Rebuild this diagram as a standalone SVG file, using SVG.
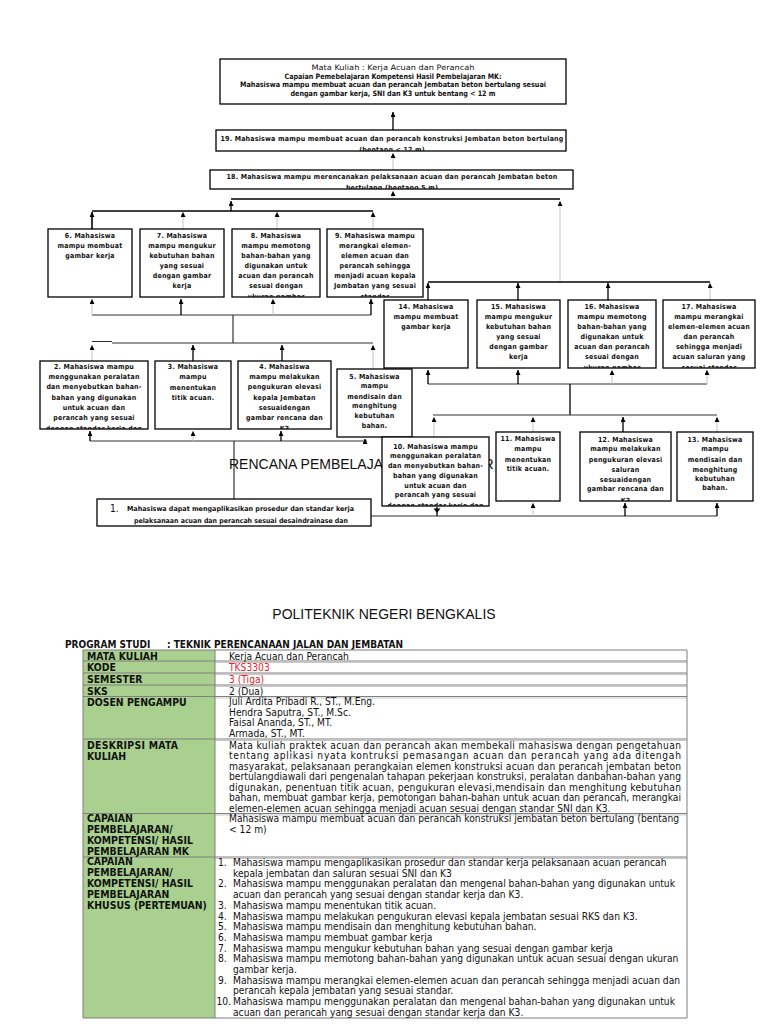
<svg xmlns="http://www.w3.org/2000/svg" width="768" height="1024" viewBox="0 0 768 1024">
<style>
.box{fill:#fff;stroke:#000;stroke-width:1.3}
.bt{font-family:"DejaVu Sans Condensed","DejaVu Sans",sans-serif;font-size:7px;letter-spacing:0.2px;font-weight:bold;text-anchor:middle;fill:#111}
.bs{font-family:"DejaVu Sans Condensed","DejaVu Sans",sans-serif;font-size:6.8px;font-weight:bold;fill:#111}
.tt{font-family:"DejaVu Sans Condensed","DejaVu Sans",sans-serif;font-size:7.4px;text-anchor:middle;fill:#111}
.ck{stroke:#000;stroke-width:1.3;fill:none}
.cg{stroke:#c4c4c4;stroke-width:1;fill:none}
.cd{stroke:#333;stroke-width:1.2;fill:none}
.ar{marker-end:url(#ah)}
.h1{font-family:"Liberation Sans",Arial,sans-serif;font-size:14px;fill:#111}
.lb{font-family:"DejaVu Sans Condensed","DejaVu Sans",sans-serif;font-size:10.4px;font-weight:bold;fill:#111}
.ps{font-family:"DejaVu Sans Condensed","DejaVu Sans",sans-serif;font-size:10px;font-weight:bold;fill:#111}
.tv{font-family:"DejaVu Sans Condensed","DejaVu Sans",sans-serif;font-size:10.2px;fill:#111}
.red{fill:#e8202a}
.rl{stroke:#7f7f7f;stroke-width:1}
.rl2{stroke:#c8c8c8;stroke-width:1}
</style>
<defs>
<marker id="ah" viewBox="0 0 6 6" refX="6" refY="3" markerWidth="5" markerHeight="5" orient="auto" markerUnits="userSpaceOnUse"><path d="M0,0 L6,3 L0,6 z" fill="#000"/></marker>
<clipPath id="c19"><rect x="216" y="130" width="350" height="21"/></clipPath>
<clipPath id="c18"><rect x="210" y="170" width="363" height="19"/></clipPath>
<clipPath id="cA"><rect x="40" y="229" width="390" height="68"/></clipPath>
<clipPath id="cB"><rect x="380" y="300" width="380" height="68"/></clipPath>
<clipPath id="cC"><rect x="30" y="361" width="310" height="68"/></clipPath>
<clipPath id="c10"><rect x="382" y="437" width="107" height="69"/></clipPath>
<clipPath id="c12"><rect x="580" y="432" width="91" height="69"/></clipPath>
<clipPath id="c1"><rect x="97" y="499" width="274" height="27"/></clipPath>
</defs>
<rect width="768" height="1024" fill="#fff"/>

<g id="connectors">
<path class="ck ar" d="M393,130 V112"/>
<path class="cg ar" d="M393,170 V153"/>
<path class="cg ar" d="M393,199 V191"/>
<path class="ck" d="M231,199 H560"/>
<path class="ck ar" d="M231,211 V201"/>
<path class="cg ar" d="M560,282 V201"/>
<path class="ck" d="M92,211 H373"/>
<path class="ck ar" d="M92,229 V212" style="stroke-width:1.6"/>
<path class="cg ar" d="M183,229 V212"/>
<path class="cg ar" d="M277,229 V212"/>
<path class="cg ar" d="M373,229 V212"/>
<path class="ck" d="M428,282 H710"/>
<path class="ck ar" d="M428,300 V283"/>
<path class="ck ar" d="M518,300 V283"/>
<path class="ck ar" d="M608,300 V283"/>
<path class="cg ar" d="M710,300 V283"/>
<path class="cd" d="M92,315 H371"/>
<path class="cg ar" d="M92,315 V299"/>
<path class="ck ar" d="M181,315 V299"/>
<path class="cg ar" d="M273,315 V299"/>
<path class="ck ar" d="M371,315 V299"/>
<path class="cd" d="M233,343 V315"/>
<path class="cd" d="M92,341.5 H112 M112,343 H373"/>
<path class="cg ar" d="M92,361 V345"/>
<path class="ck ar" d="M193,361 V345"/>
<path class="ck ar" d="M282,361 V345"/>
<path class="cg ar" d="M373,369 V345"/>
<path class="cd" d="M428,384 H707"/>
<path class="ck ar" d="M428,384 V370"/>
<path class="ck ar" d="M518,384 V370"/>
<path class="cg ar" d="M612,384 V370"/>
<path class="cg ar" d="M707,384 V370"/>
<path class="ck" d="M570,415 V384"/>
<path class="cd" d="M433,415 H717"/>
<path class="cg ar" d="M434,437 V417"/>
<path class="cg ar" d="M533,432 V417"/>
<path class="ck ar" d="M623,432 V417"/>
<path class="cg ar" d="M717,432 V417"/>
<path class="cd" d="M90,441 H367"/>
<path class="ck ar" d="M90,441 V431"/>
<path class="cg ar" d="M193,441 V431"/>
<path class="ck ar" d="M281,441 V431"/>
<path class="ck ar" d="M365,441 V439"/>
<path class="cd" d="M234,441 V499"/>
<path class="cd" d="M371,516 H717"/>
<path class="cg ar" d="M533,516 V503"/>
<path class="ck ar" d="M625,516 V503"/>
<path class="ck ar" d="M717,516 V503"/>
<path class="ck" d="M437,507 V516"/>
<path d="M433.5,508.5 H440.5 L437,513 z" fill="#000"/>
</g>

<g id="n-top">
<rect class="box" x="220" y="59" width="346" height="45"/>
<text class="tt" x="393" y="70" textLength="163" lengthAdjust="spacingAndGlyphs">Mata Kuliah : Kerja Acuan dan Perancah</text>
<text class="tt" x="393" y="78.5" font-weight="bold" textLength="217" lengthAdjust="spacingAndGlyphs">Capaian Pemebelajaran Kompetensi Hasil Pembelajaran MK:</text>
<text class="tt" x="393" y="87" font-weight="bold" textLength="306" lengthAdjust="spacingAndGlyphs">Mahasiswa mampu membuat acuan dan perancah Jembatan beton bertulang sesuai</text>
<text class="tt" x="393" y="95.5" font-weight="bold" textLength="205" lengthAdjust="spacingAndGlyphs">dengan gambar kerja, SNI dan K3 untuk bentang &lt; 12 m</text>
</g>

<g id="n19">
<rect class="box" x="216" y="130" width="350" height="21"/>
<g clip-path="url(#c19)">
<text class="bt" x="392" y="140.5" textLength="343" lengthAdjust="spacingAndGlyphs">19. Mahasiswa mampu membuat acuan dan perancah konstruksi Jembatan beton bertulang</text>
<text class="bt" x="392" y="151.5">(bentang &lt; 12 m)</text>
</g>
</g>

<g id="n18">
<rect class="box" x="210" y="170" width="363" height="19"/>
<g clip-path="url(#c18)">
<text class="bt" x="392" y="179" textLength="331" lengthAdjust="spacingAndGlyphs">18. Mahasiswa mampu merencanakan pelaksanaan acuan dan perancah Jembatan beton</text>
<text class="bt" x="392" y="190">bertulang (bentang 5 m)</text>
</g>
</g>

<g id="n6">
<rect class="box" x="48" y="229" width="84" height="68"/>
<text class="bt"><tspan x="90" y="237.5">6. Mahasiswa</tspan><tspan x="90" y="247.6">mampu membuat</tspan><tspan x="90" y="257.7">gambar kerja</tspan></text>
</g>
<g id="n7">
<rect class="box" x="140" y="229" width="84" height="68"/>
<text class="bt"><tspan x="182" y="237.5">7. Mahasiswa</tspan><tspan x="182" y="247.6">mampu mengukur</tspan><tspan x="182" y="257.7">kebutuhan bahan</tspan><tspan x="182" y="267.8">yang sesuai</tspan><tspan x="182" y="277.9">dengan gambar</tspan><tspan x="182" y="288">kerja</tspan></text>
</g>
<g id="n8">
<rect class="box" x="232" y="229" width="88" height="68"/>
<text class="bt" clip-path="url(#cA)"><tspan x="276" y="237.5">8. Mahasiswa</tspan><tspan x="276" y="247.6">mampu memotong</tspan><tspan x="276" y="257.7">bahan-bahan yang</tspan><tspan x="276" y="267.8">digunakan untuk</tspan><tspan x="276" y="277.9">acuan dan perancah</tspan><tspan x="276" y="288">sesuai dengan</tspan><tspan x="276" y="298.6">ukuran gambar</tspan></text>
</g>
<g id="n9">
<rect class="box" x="327" y="229" width="96" height="68"/>
<text class="bt" clip-path="url(#cA)"><tspan x="375" y="237.5">9. Mahasiswa mampu</tspan><tspan x="375" y="247.6">merangkai elemen-</tspan><tspan x="375" y="257.7">elemen acuan dan</tspan><tspan x="375" y="267.8">perancah sehingga</tspan><tspan x="375" y="277.9">menjadi acuan kepala</tspan><tspan x="375" y="288">Jembatan yang sesuai</tspan><tspan x="375" y="298.6">standar</tspan></text>
</g>

<g id="n14">
<rect class="box" x="384" y="300" width="84" height="68"/>
<text class="bt"><tspan x="426" y="308.5">14. Mahasiswa</tspan><tspan x="426" y="318.6">mampu membuat</tspan><tspan x="426" y="328.7">gambar kerja</tspan></text>
</g>
<g id="n15">
<rect class="box" x="477" y="300" width="83" height="68"/>
<text class="bt"><tspan x="518.5" y="308.5">15. Mahasiswa</tspan><tspan x="518.5" y="318.6">mampu mengukur</tspan><tspan x="518.5" y="328.7">kebutuhan bahan</tspan><tspan x="518.5" y="338.8">yang sesuai</tspan><tspan x="518.5" y="348.9">dengan gambar</tspan><tspan x="518.5" y="359">kerja</tspan></text>
</g>
<g id="n16">
<rect class="box" x="568" y="300" width="88" height="68"/>
<text class="bt" clip-path="url(#cB)"><tspan x="612" y="308.5">16. Mahasiswa</tspan><tspan x="612" y="318.6">mampu memotong</tspan><tspan x="612" y="328.7">bahan-bahan yang</tspan><tspan x="612" y="338.8">digunakan untuk</tspan><tspan x="612" y="348.9">acuan dan perancah</tspan><tspan x="612" y="359">sesuai dengan</tspan><tspan x="612" y="369.6">ukuran gambar</tspan></text>
</g>
<g id="n17">
<rect class="box" x="663" y="300" width="92" height="68"/>
<text class="bt" clip-path="url(#cB)"><tspan x="709" y="308.5">17. Mahasiswa</tspan><tspan x="709" y="318.6">mampu merangkai</tspan><tspan x="709" y="328.7">elemen-elemen acuan</tspan><tspan x="709" y="338.8">dan perancah</tspan><tspan x="709" y="348.9">sehingga menjadi</tspan><tspan x="709" y="359">acuan saluran yang</tspan><tspan x="709" y="369.6">sesuai standar</tspan></text>
</g>

<g id="n2">
<rect class="box" x="40" y="361" width="108" height="68"/>
<text class="bt" clip-path="url(#cC)"><tspan x="94" y="369">2. Mahasiswa mampu</tspan><tspan x="94" y="379.2">menggunakan peralatan</tspan><tspan x="94" y="389.4">dan menyebutkan bahan-</tspan><tspan x="94" y="399.6">bahan yang digunakan</tspan><tspan x="94" y="409.8">untuk acuan dan</tspan><tspan x="94" y="420">perancah yang sesuai</tspan><tspan x="94" y="430.6">dengan standar kerja dan</tspan></text>
</g>
<g id="n3">
<rect class="box" x="155" y="361" width="76" height="68"/>
<text class="bt"><tspan x="193" y="369">3. Mahasiswa</tspan><tspan x="193" y="378.5">mampu</tspan><tspan x="193" y="390">menentukan</tspan><tspan x="193" y="399.5">titik acuan.</tspan></text>
</g>
<g id="n4">
<rect class="box" x="238" y="361" width="93" height="68"/>
<text class="bt" clip-path="url(#cC)"><tspan x="284.5" y="369">4. Mahasiswa</tspan><tspan x="284.5" y="379.2">mampu melakukan</tspan><tspan x="284.5" y="389.4">pengukuran elevasi</tspan><tspan x="284.5" y="399.6">kepala Jembatan</tspan><tspan x="284.5" y="409.8">sesuaidengan</tspan><tspan x="284.5" y="420">gambar rencana dan</tspan><tspan x="284.5" y="430.6">K3</tspan></text>
</g>
<g id="n5">
<rect class="box" x="337" y="369" width="75" height="68"/>
<text class="bt"><tspan x="374.5" y="378.5">5. Mahasiswa</tspan><tspan x="374.5" y="388">mampu</tspan><tspan x="374.5" y="399">mendisain dan</tspan><tspan x="374.5" y="408">menghitung</tspan><tspan x="374.5" y="418">kebutuhan</tspan><tspan x="374.5" y="428">bahan.</tspan></text>
</g>

<g id="title">
<text class="h1" x="229" y="468.5">RENCANA PEMBELAJARAN SEMESTER</text>
</g>

<g id="n10">
<rect class="box" x="382" y="437" width="107" height="69"/>
<text class="bt" clip-path="url(#c10)"><tspan x="435.5" y="448.5">10. Mahasiswa mampu</tspan><tspan x="435.5" y="458.2">menggunakan peralatan</tspan><tspan x="435.5" y="468">dan menyebutkan bahan-</tspan><tspan x="435.5" y="477.7">bahan yang digunakan</tspan><tspan x="435.5" y="487.5">untuk acuan dan</tspan><tspan x="435.5" y="497.2">perancah yang sesuai</tspan><tspan x="435.5" y="507.5">dengan standar kerja dan</tspan></text>
</g>
<g id="n11">
<rect class="box" x="496" y="432" width="64" height="69"/>
<text class="bt"><tspan x="528" y="441">11. Mahasiswa</tspan><tspan x="528" y="450.5">mampu</tspan><tspan x="528" y="461.5">menentukan</tspan><tspan x="528" y="471">titik acuan.</tspan></text>
</g>
<g id="n12">
<rect class="box" x="580" y="432" width="91" height="69"/>
<text class="bt" clip-path="url(#c12)"><tspan x="625.5" y="441.5">12. Mahasiswa</tspan><tspan x="625.5" y="450.5">mampu melakukan</tspan><tspan x="625.5" y="461.5">pengukuran elevasi</tspan><tspan x="625.5" y="471.5">saluran</tspan><tspan x="625.5" y="481.5">sesuaidengan</tspan><tspan x="625.5" y="490.5">gambar rencana dan</tspan><tspan x="625.5" y="502.5">K3</tspan></text>
</g>
<g id="n13">
<rect class="box" x="677" y="432" width="76" height="69"/>
<text class="bt"><tspan x="715" y="441.5">13. Mahasiswa</tspan><tspan x="715" y="450.5">mampu</tspan><tspan x="715" y="461.5">mendisain dan</tspan><tspan x="715" y="471.5">menghitung</tspan><tspan x="715" y="480.5">kebutuhan</tspan><tspan x="715" y="490">bahan.</tspan></text>
</g>

<g id="n1">
<rect class="box" x="97" y="499" width="274" height="27"/>
<g clip-path="url(#c1)">
<text class="tv" x="110" y="511.5" font-size="10">1.</text>
<text class="bs" x="127" y="511" textLength="227" lengthAdjust="spacingAndGlyphs">Mahasiswa dapat mengaplikasikan prosedur dan standar kerja</text>
<text class="bs" x="134" y="522.5" textLength="214" lengthAdjust="spacingAndGlyphs">pelaksanaan acuan dan perancah sesuai desaindrainase dan</text>
</g>
</g>

<g id="header">
<text class="h1" x="384" y="619" text-anchor="middle" font-size="14.3">POLITEKNIK NEGERI BENGKALIS</text>
<text class="ps" x="65" y="648">PROGRAM STUDI</text>
<text class="ps" x="167" y="648">: TEKNIK PERENCANAAN JALAN DAN JEMBATAN</text>
</g>

<g id="table">
<rect x="83" y="650" width="132" height="368" fill="#a9d08e"/>
<rect x="215" y="650" width="472" height="368" fill="#fff"/>
<g>
<line class="rl" x1="83" y1="650" x2="687" y2="650"/>
<line class="rl" x1="83" y1="661" x2="687" y2="661"/><line class="rl2" x1="215" y1="662.5" x2="687" y2="662.5"/>
<line class="rl" x1="83" y1="673" x2="687" y2="673"/><line class="rl2" x1="215" y1="674.5" x2="687" y2="674.5"/>
<line class="rl" x1="83" y1="685" x2="687" y2="685"/><line class="rl2" x1="215" y1="686.5" x2="687" y2="686.5"/>
<line class="rl" x1="83" y1="696.5" x2="687" y2="696.5"/><line class="rl2" x1="215" y1="698" x2="687" y2="698"/>
<line class="rl" x1="83" y1="739" x2="687" y2="739"/><line class="rl2" x1="215" y1="740.5" x2="687" y2="740.5"/>
<line class="rl" x1="83" y1="813.5" x2="687" y2="813.5"/><line class="rl2" x1="215" y1="815" x2="687" y2="815"/>
<line class="rl" x1="83" y1="857" x2="687" y2="857"/><line class="rl2" x1="215" y1="858.5" x2="687" y2="858.5"/>
<line class="rl" x1="83" y1="1018" x2="687" y2="1018"/>
<line class="rl" x1="83" y1="650" x2="83" y2="1018"/>
<line class="rl" x1="215" y1="650" x2="215" y2="1018"/>
<line class="rl" x1="687" y1="650" x2="687" y2="1018"/>
</g>
<text class="lb" x="87" y="659.5">MATA KULIAH</text>
<text class="lb" x="87" y="671">KODE</text>
<text class="lb" x="87" y="683">SEMESTER</text>
<text class="lb" x="87" y="694.5">SKS</text>
<text class="lb" x="87" y="705.5">DOSEN PENGAMPU</text>
<text class="lb" x="87" y="748.5" textLength="91" lengthAdjust="spacing">DESKRIPSI MATA</text>
<text class="lb" x="87" y="759.5">KULIAH</text>
<text class="lb"><tspan x="87" y="821.5">CAPAIAN</tspan><tspan x="87" y="832.5">PEMBELAJARAN/</tspan><tspan x="87" y="843.5">KOMPETENSI/ HASIL</tspan><tspan x="87" y="854.5">PEMBELAJARAN MK</tspan></text>
<text class="lb"><tspan x="87" y="865">CAPAIAN</tspan><tspan x="87" y="876">PEMBELAJARAN/</tspan><tspan x="87" y="887">KOMPETENSI/ HASIL</tspan><tspan x="87" y="898">PEMBELAJARAN</tspan><tspan x="87" y="909">KHUSUS (PERTEMUAN)</tspan></text>

<text class="tv" x="229" y="659.5">Kerja Acuan dan Perancah</text>
<text class="tv red" x="229" y="671">TKS3303</text>
<text class="tv red" x="229" y="683">3 (Tiga)</text>
<text class="tv" x="229" y="694.5">2 (Dua)</text>
<text class="tv"><tspan x="229" y="705">Juli Ardita Pribadi R., ST., M.Eng.</tspan><tspan x="229" y="715.5">Hendra Saputra, ST., M.Sc.</tspan><tspan x="229" y="726">Faisal Ananda, ST., MT.</tspan><tspan x="229" y="736.5">Armada, ST., MT.</tspan></text>

<text class="tv" x="229" y="748.5" textLength="452" lengthAdjust="spacing">Mata kuliah praktek acuan dan perancah akan membekali mahasiswa dengan pengetahuan</text>
<text class="tv" x="229" y="759" textLength="452" lengthAdjust="spacing">tentang aplikasi nyata kontruksi pemasangan acuan dan perancah yang ada ditengah</text>
<text class="tv" x="229" y="769.5" textLength="452" lengthAdjust="spacing">masyarakat, pelaksanaan perangkaian  elemen konstruksi acuan dan perancah jembatan beton</text>
<text class="tv" x="229" y="780" textLength="452" lengthAdjust="spacing">bertulangdiawali dari pengenalan tahapan pekerjaan konstruksi, peralatan danbahan-bahan yang</text>
<text class="tv" x="229" y="790.5" textLength="452" lengthAdjust="spacing">digunakan, penentuan titik acuan, pengukuran elevasi,mendisain dan menghitung kebutuhan</text>
<text class="tv" x="229" y="801" textLength="452" lengthAdjust="spacing">bahan, membuat gambar kerja, pemotongan bahan-bahan untuk acuan dan perancah, merangkai</text>
<text class="tv" x="229" y="811.5">elemen-elemen acuan sehingga menjadi acuan sesuai dengan standar SNI dan K3.</text>

<text class="tv" x="229" y="821.5">Mahasiswa mampu membuat acuan dan perancah konstruksi jembatan beton bertulang (bentang</text>
<text class="tv" x="229" y="832.5">&lt; 12 m)</text>

<g class="tv">
<text class="tv" x="218" y="866">1.</text><text class="tv" x="233" y="866">Mahasiswa mampu mengaplikasikan prosedur dan standar kerja pelaksanaan acuan perancah</text>
<text class="tv" x="233" y="876.7">kepala jembatan dan saluran sesuai SNI dan K3</text>
<text class="tv" x="218" y="887.4">2.</text><text class="tv" x="233" y="887.4">Mahasiswa mampu menggunakan peralatan dan mengenal bahan-bahan yang digunakan untuk</text>
<text class="tv" x="233" y="898.1">acuan dan perancah yang sesuai dengan standar kerja dan K3.</text>
<text class="tv" x="218" y="908.8">3.</text><text class="tv" x="233" y="908.8">Mahasiswa mampu menentukan titik acuan.</text>
<text class="tv" x="218" y="919.5">4.</text><text class="tv" x="233" y="919.5">Mahasiswa mampu melakukan pengukuran elevasi kepala jembatan sesuai RKS dan K3.</text>
<text class="tv" x="218" y="930.2">5.</text><text class="tv" x="233" y="930.2">Mahasiswa mampu mendisain dan menghitung kebutuhan bahan.</text>
<text class="tv" x="218" y="940.9">6.</text><text class="tv" x="233" y="940.9">Mahasiswa mampu membuat gambar kerja</text>
<text class="tv" x="218" y="951.6">7.</text><text class="tv" x="233" y="951.6">Mahasiswa mampu mengukur kebutuhan bahan yang sesuai dengan gambar kerja</text>
<text class="tv" x="218" y="962.3">8.</text><text class="tv" x="233" y="962.3">Mahasiswa mampu memotong bahan-bahan yang digunakan untuk acuan sesuai dengan ukuran</text>
<text class="tv" x="233" y="973">gambar kerja.</text>
<text class="tv" x="218" y="983.7">9.</text><text class="tv" x="233" y="983.7">Mahasiswa mampu merangkai elemen-elemen acuan dan perancah sehingga menjadi acuan dan</text>
<text class="tv" x="233" y="994.4">perancah kepala jembatan yang sesuai standar.</text>
<text class="tv" x="216.5" y="1005.1">10.</text><text class="tv" x="233" y="1005.1">Mahasiswa mampu menggunakan peralatan dan mengenal bahan-bahan yang digunakan untuk</text>
<text class="tv" x="233" y="1015.8">acuan dan perancah yang sesuai dengan standar kerja dan K3.</text>
</g>
</g>
</svg>
